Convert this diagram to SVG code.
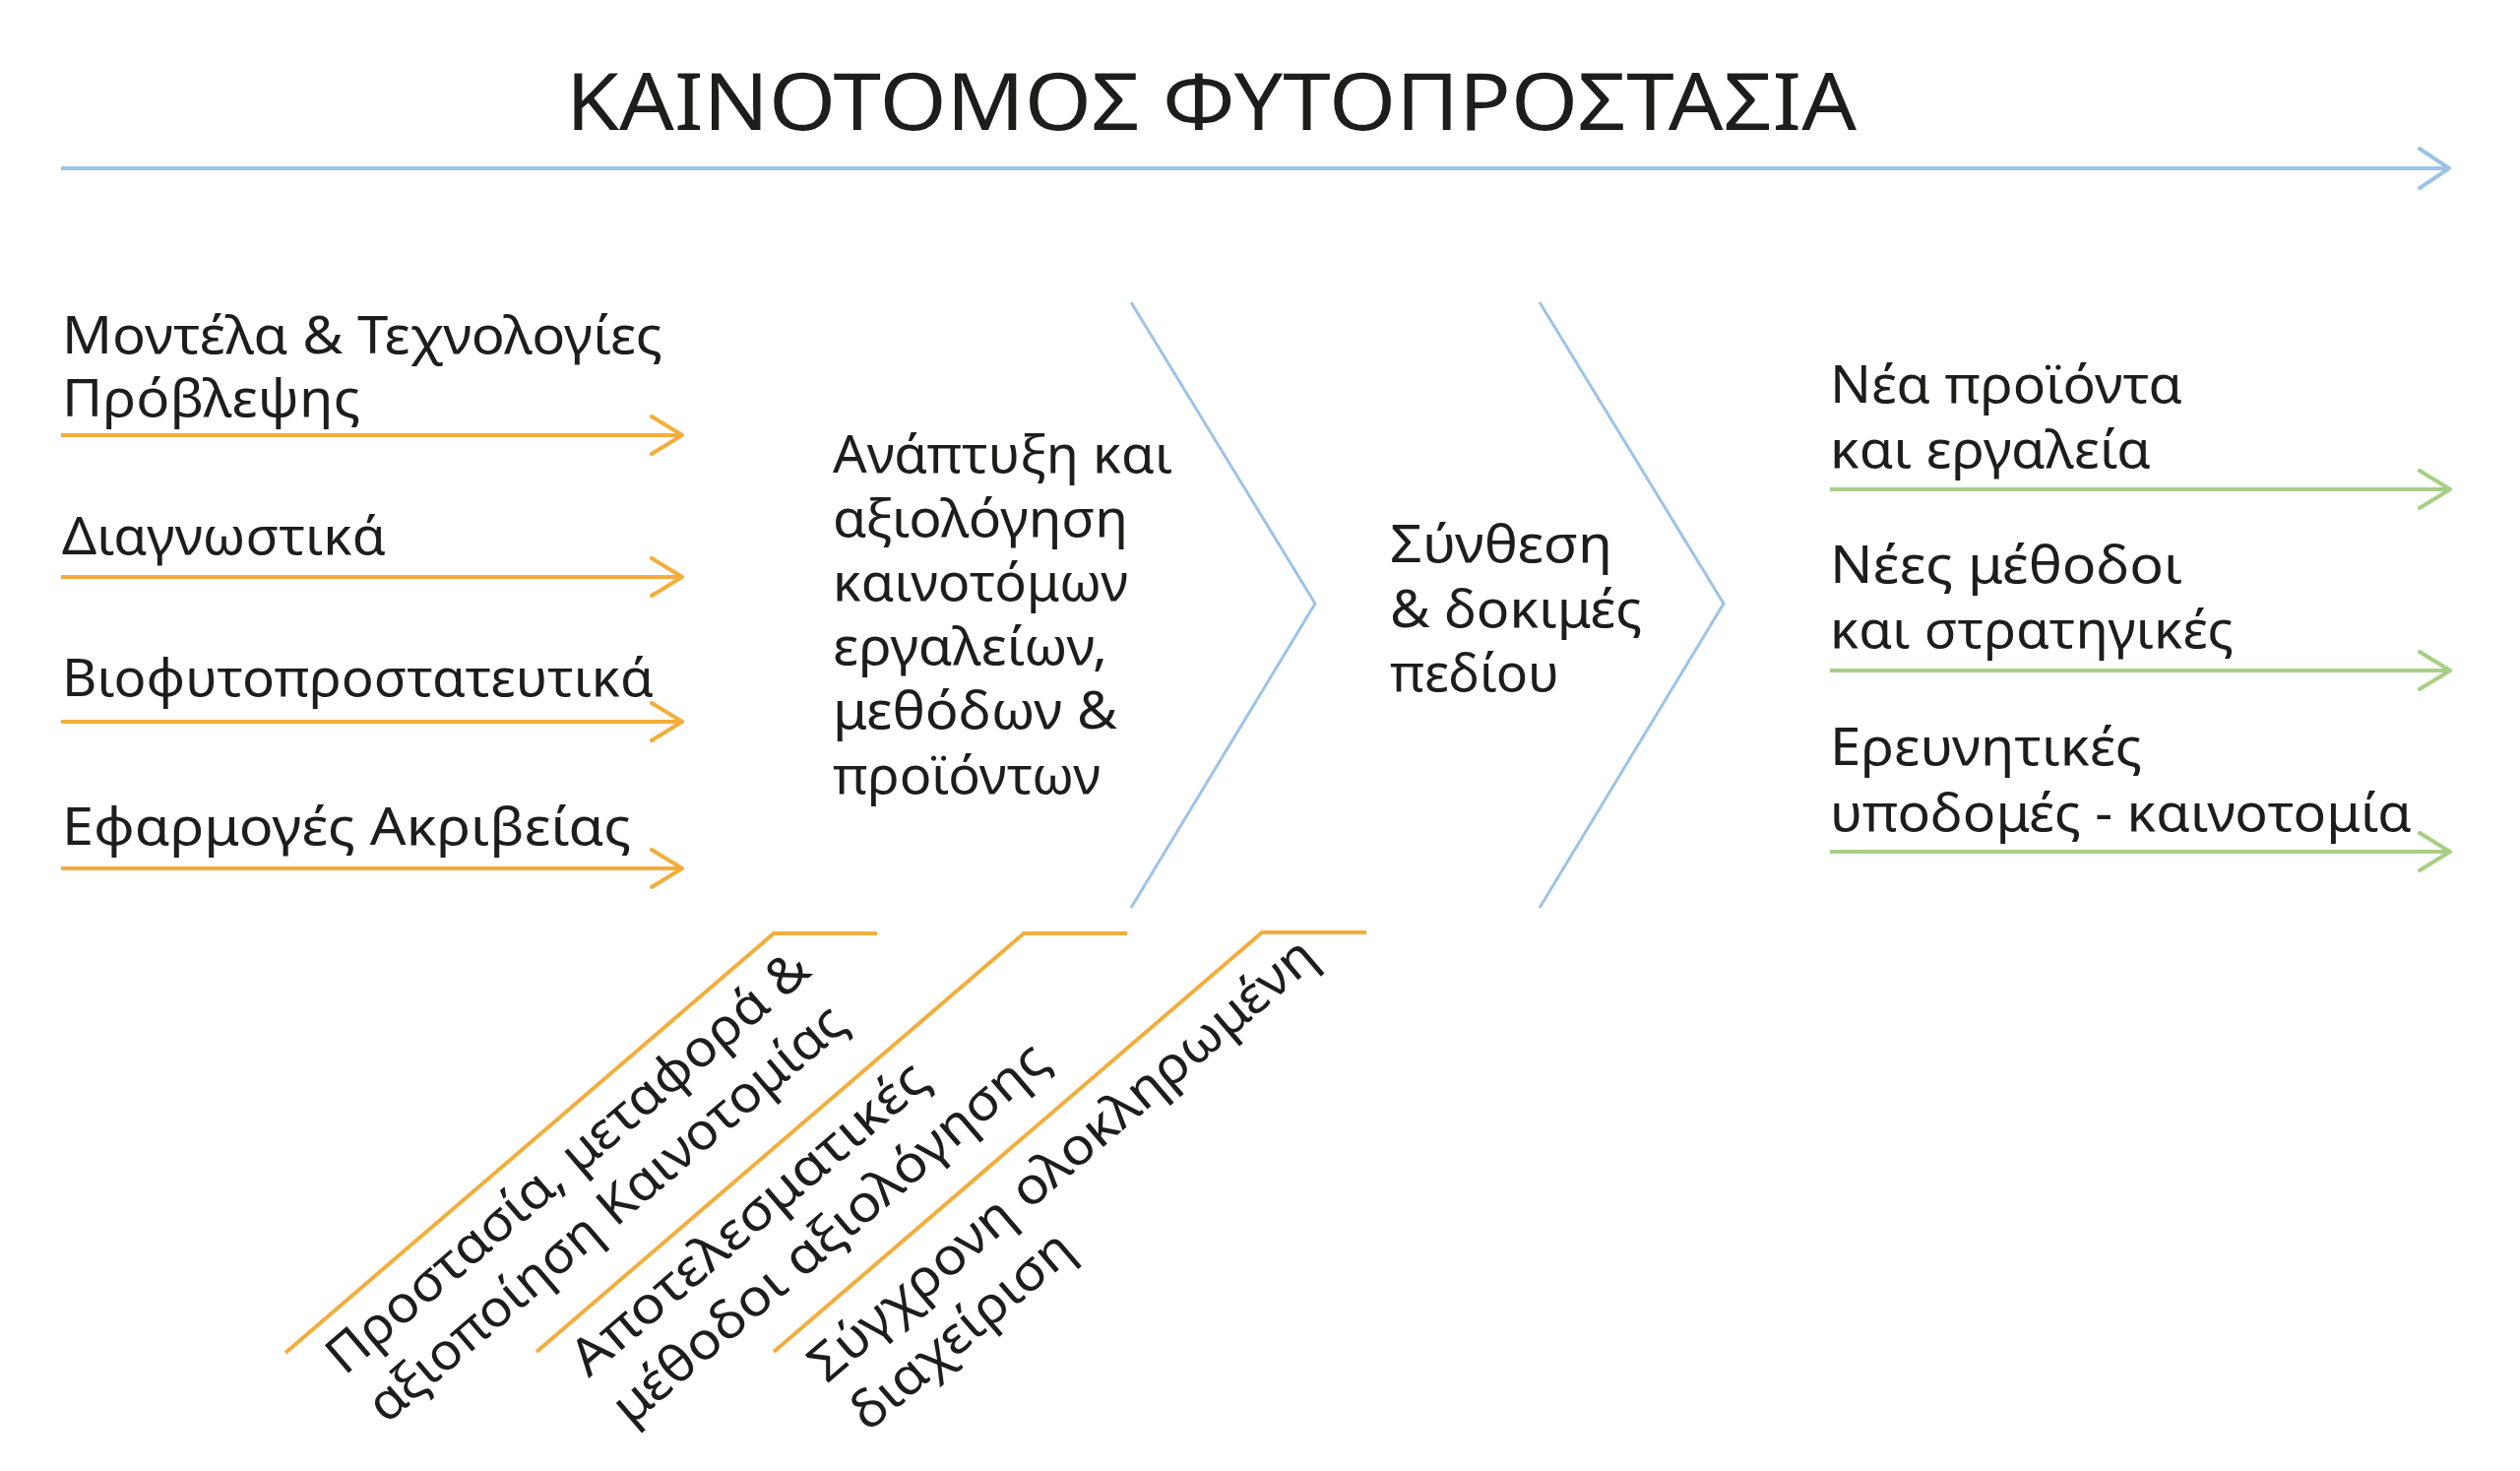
<svg xmlns="http://www.w3.org/2000/svg" width="2560" height="1494" viewBox="0 0 2560 1494">
<style>
.t{font-family:"Noto Sans","DejaVu Sans",sans-serif;fill:#1d1d1b;font-size:52px}
.title{font-family:"Noto Sans","DejaVu Sans",sans-serif;fill:#1d1d1b;font-size:80px}
.or{stroke:#F2AE3C;stroke-width:4;fill:none}
.gr{stroke:#A6CF85;stroke-width:4;fill:none}
.bl{stroke:#9DC3E6;stroke-width:4;fill:none}
.blt{stroke:#9DC3E6;stroke-width:3;fill:none}
</style>
<defs>
<marker id="hOr" markerUnits="userSpaceOnUse" markerWidth="40" markerHeight="44" refX="33" refY="21" orient="auto" viewBox="0 0 40 44"><path d="M2,2 L33,21 L2,40" fill="none" stroke="#F2AE3C" stroke-width="4" stroke-linecap="round" stroke-linejoin="round"/></marker>
<marker id="hGr" markerUnits="userSpaceOnUse" markerWidth="40" markerHeight="44" refX="33" refY="21" orient="auto" viewBox="0 0 40 44"><path d="M2,2 L33,21 L2,40" fill="none" stroke="#A6CF85" stroke-width="4" stroke-linecap="round" stroke-linejoin="round"/></marker>
<marker id="hBl" markerUnits="userSpaceOnUse" markerWidth="40" markerHeight="46" refX="32" refY="22" orient="auto" viewBox="0 0 40 46"><path d="M2,2 L32,22 L2,42" fill="none" stroke="#9DC3E6" stroke-width="4" stroke-linecap="round" stroke-linejoin="round"/></marker>
</defs>
<rect width="2560" height="1494" fill="#ffffff"/>

<g id="title">
<text class="title" x="575" y="132" textLength="1311" lengthAdjust="spacingAndGlyphs">ΚΑΙΝΟΤΟΜΟΣ ΦΥΤΟΠΡΟΣΤΑΣΙΑ</text>
</g>

<g id="connectors">
<line class="bl" x1="62" y1="171" x2="2488" y2="171" marker-end="url(#hBl)"/>
<line class="or" x1="62" y1="442" x2="693" y2="442" marker-end="url(#hOr)"/>
<line class="or" x1="62" y1="586" x2="693" y2="586" marker-end="url(#hOr)"/>
<line class="or" x1="62" y1="733" x2="693" y2="733" marker-end="url(#hOr)"/>
<line class="or" x1="62" y1="882" x2="693" y2="882" marker-end="url(#hOr)"/>
<line class="gr" x1="1859" y1="497" x2="2489" y2="497" marker-end="url(#hGr)"/>
<line class="gr" x1="1859" y1="681" x2="2489" y2="681" marker-end="url(#hGr)"/>
<line class="gr" x1="1859" y1="865" x2="2489" y2="865" marker-end="url(#hGr)"/>
<polyline class="or" points="891,948 786,948 290,1374"/>
<polyline class="or" points="1145,948 1040,948 545,1373"/>
<polyline class="or" points="1388,947 1282,947 786,1373"/>
</g>

<g id="input-models">
<text class="t"><tspan x="63" y="359" textLength="610" lengthAdjust="spacingAndGlyphs">Μοντέλα &amp; Τεχνολογίες</tspan><tspan x="63" y="423" textLength="303" lengthAdjust="spacingAndGlyphs">Πρόβλεψης</tspan></text>
</g>
<g id="input-diagnostics">
<text class="t" x="63" y="563" textLength="329" lengthAdjust="spacingAndGlyphs">Διαγνωστικά</text>
</g>
<g id="input-bio">
<text class="t" x="63" y="707" textLength="601" lengthAdjust="spacingAndGlyphs">Βιοφυτοπροστατευτικά</text>
</g>
<g id="input-precision">
<text class="t" x="63" y="858" textLength="578" lengthAdjust="spacingAndGlyphs">Εφαρμογές Ακριβείας</text>
</g>

<g id="stage-development">
<polyline class="blt" points="1149,307 1336,613 1149,922"/>
<text class="t">
<tspan x="846" y="480" textLength="345" lengthAdjust="spacingAndGlyphs">Ανάπτυξη και</tspan>
<tspan x="846" y="545" textLength="300" lengthAdjust="spacingAndGlyphs">αξιολόγηση</tspan>
<tspan x="846" y="610" textLength="300" lengthAdjust="spacingAndGlyphs">καινοτόμων</tspan>
<tspan x="846" y="675" textLength="279" lengthAdjust="spacingAndGlyphs">εργαλείων,</tspan>
<tspan x="846" y="740" textLength="289" lengthAdjust="spacingAndGlyphs">μεθόδων &amp;</tspan>
<tspan x="846" y="806" textLength="272" lengthAdjust="spacingAndGlyphs">προϊόντων</tspan>
</text>
</g>

<g id="stage-synthesis">
<polyline class="blt" points="1564,307 1751,613 1564,922"/>
<text class="t">
<tspan x="1412" y="571" textLength="226" lengthAdjust="spacingAndGlyphs">Σύνθεση</tspan>
<tspan x="1412" y="637" textLength="256" lengthAdjust="spacingAndGlyphs">&amp; δοκιμές</tspan>
<tspan x="1412" y="702" textLength="172" lengthAdjust="spacingAndGlyphs">πεδίου</tspan>
</text>
</g>

<g id="output-products">
<text class="t"><tspan x="1859" y="409" textLength="358" lengthAdjust="spacingAndGlyphs">Νέα προϊόντα</tspan><tspan x="1859" y="475" textLength="326" lengthAdjust="spacingAndGlyphs">και εργαλεία</tspan></text>
</g>
<g id="output-methods">
<text class="t"><tspan x="1859" y="592" textLength="358" lengthAdjust="spacingAndGlyphs">Νέες μέθοδοι</tspan><tspan x="1859" y="658" textLength="410" lengthAdjust="spacingAndGlyphs">και στρατηγικές</tspan></text>
</g>
<g id="output-infrastructure">
<text class="t"><tspan x="1859" y="777" textLength="317" lengthAdjust="spacingAndGlyphs">Ερευνητικές</tspan><tspan x="1859" y="844" textLength="591" lengthAdjust="spacingAndGlyphs">υποδομές - καινοτομία</tspan></text>
</g>

<g id="support-protection">
<text class="t" transform="translate(350,1398) rotate(-40.65)"><tspan x="0" y="0" textLength="628" lengthAdjust="spacingAndGlyphs">Προστασία, μεταφορά &amp;</tspan><tspan x="0" y="65" textLength="620" lengthAdjust="spacingAndGlyphs">αξιοποίηση Καινοτομίας</tspan></text>
</g>
<g id="support-evaluation">
<text class="t" transform="translate(598,1400) rotate(-40.65)"><tspan x="0" y="0" textLength="459" lengthAdjust="spacingAndGlyphs">Αποτελεσματικές</tspan><tspan x="0" y="65" textLength="564" lengthAdjust="spacingAndGlyphs">μέθοδοι αξιολόγησης</tspan></text>
</g>
<g id="support-management">
<text class="t" transform="translate(840,1406) rotate(-40.65)"><tspan x="0" y="0" textLength="660" lengthAdjust="spacingAndGlyphs">Σύγχρονη ολοκληρωμένη</tspan><tspan x="0" y="65" textLength="279" lengthAdjust="spacingAndGlyphs">διαχείριση</tspan></text>
</g>
</svg>
